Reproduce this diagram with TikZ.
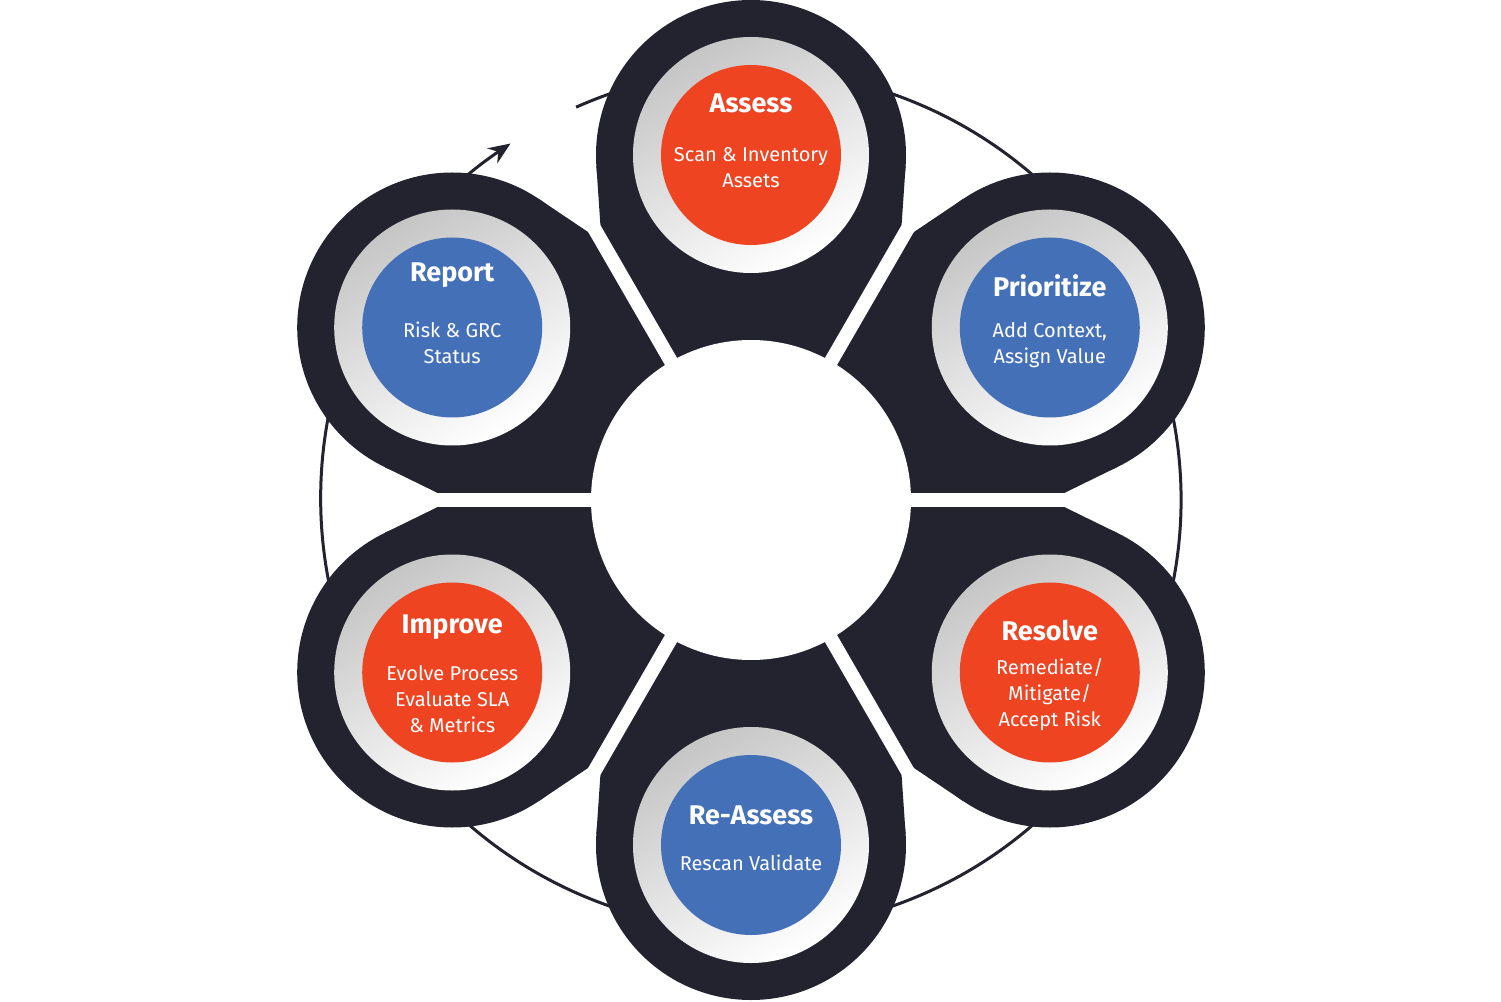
\documentclass[tikz,border=0pt]{standalone}
\usepackage{fontspec}
\setmainfont{Fira Sans}
\usetikzlibrary{arrows.meta}
\definecolor{dk}{HTML}{23232F}
\definecolor{org}{HTML}{EE4422}
\definecolor{blu}{HTML}{4470B8}
\tikzset{
 ringc/.style={shading=axis,top color=gray!45,bottom color=white,shading angle=30},
 ttl/.style={text=white,font=\fontsize{27}{30}\selectfont\bfseries},
 bdy/.style={text=white,font=\fontsize{20}{26}\selectfont,align=center}
}
\begin{document}
\begin{tikzpicture}[x=1pt,y=1pt]
\useasboundingbox (-751,-501) rectangle (750,500);
\fill[white] (-751,-501) rectangle (750,500);
\draw[dk,line width=3,-{Stealth[length=22,width=18]}] (114:430) arc[start angle=114,end angle=-236,radius=430];
\foreach \a in {90,30,-30,-90,-150,150}{
  \fill[dk] (0,0) -- (\a-30:299) -- ([shift={(\a:345)}]\a-94:155) -- (\a:345) -- ([shift={(\a:345)}]\a+94:155) -- (\a+30:299) -- cycle;
  \fill[dk] (\a:345) circle (155);
}
\foreach \a in {60,0,-60,-120,180,120}{
  \draw[white,line width=14] (0,0) -- (\a:400);
}
\fill[white] (0,0) circle (160);
\foreach \a/\c/\n in {90/org/as,30/blu/pr,-30/org/re,-90/blu/ra,-150/org/im,150/blu/rp}{
  \shade[ringc] (\a:345) circle (118);
  \fill[\c] (\a:345) circle (90);
  \coordinate (\n) at (\a:345);
}
\node[ttl] (t1) at ([yshift=52]as) {Assess};
\node[bdy] (b1) at ([yshift=-13]as) {Scan \& Inventory\\Assets};
\node[ttl] (t2) at ([yshift=42]pr) {Prioritize};
\node[bdy] (b2) at ([yshift=-18]pr) {Add Context,\\Assign Value};
\node[ttl] (t3) at ([yshift=42]re) {Resolve};
\node[bdy] (b3) at ([yshift=-22]re) {Remediate/\\Mitigate/\\Accept Risk};
\node[ttl] (t4) at ([yshift=30]ra) {Re-Assess};
\node[bdy] (b4) at ([yshift=-18]ra) {Rescan Validate};
\node[ttl] (t5) at ([yshift=45]im) {Improve};
\node[bdy] (b5) at ([yshift=-27]im) {Evolve Process\\Evaluate SLA\\\& Metrics};
\node[ttl] (t6) at ([yshift=52]rp) {Report};
\node[bdy] (b6) at ([yshift=-15]rp) {Risk \& GRC\\Status};
\end{tikzpicture}
\end{document}
